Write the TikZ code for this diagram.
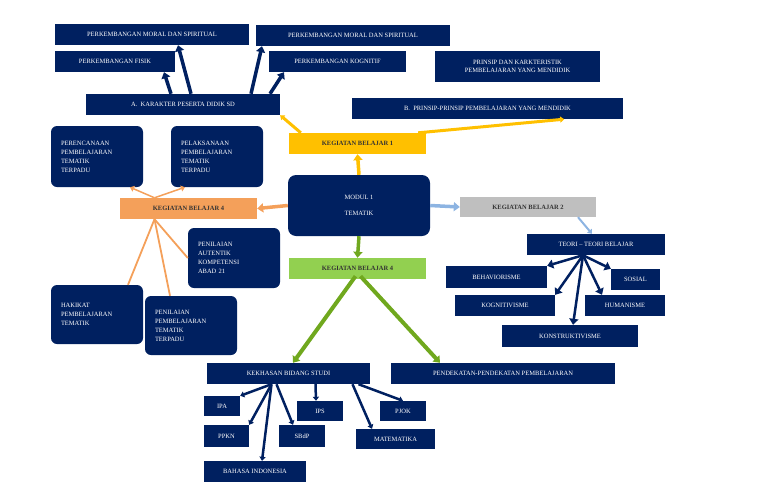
\documentclass[tikz,border=0pt]{standalone}
\usepackage{fontspec}
\setmainfont{Liberation Serif}
\usetikzlibrary{arrows.meta}
\definecolor{cnavy}{RGB}{0,32,96}
\definecolor{cyellow}{RGB}{255,192,0}
\definecolor{corange}{RGB}{244,160,90}
\definecolor{cgreen}{RGB}{146,208,80}
\definecolor{cgreenarr}{RGB}{112,168,30}
\definecolor{cgrey}{RGB}{191,191,191}
\definecolor{cblue}{RGB}{141,180,226}

\begin{document}
\begin{tikzpicture}[x=1pt,y=-1pt,
  box/.style={fill=cnavy,text=white,inner sep=0pt,font=\fontsize{6.5}{8}\selectfont,align=center},
  rbox/.style={box,rounded corners=6,align=left,text width=72pt,font=\fontsize{6.5}{9}\selectfont},
  kb/.style={inner sep=0pt,font=\bfseries\fontsize{6.5}{8}\selectfont,text=black!80},
  fat/.style={line width=3.5pt,-{Triangle[length=6pt,width=9pt]}},
  thin/.style={line width=2pt,-{Triangle[length=4pt,width=6pt]}}]

\useasboundingbox (0,0) rectangle (768,501);

% top: karakter peserta didik
\node[box,minimum width=194,minimum height=21] (moralA) at (152,34.5) {PERKEMBANGAN MORAL DAN SPIRITUAL};
\node[box,minimum width=194,minimum height=21] (moralB) at (353,35.5) {PERKEMBANGAN MORAL DAN SPIRITUAL};
\node[box,minimum width=120,minimum height=21] (fisik) at (115,61.5) {PERKEMBANGAN FISIK};
\node[box,minimum width=137,minimum height=21] (kogn) at (337.5,61.5) {PERKEMBANGAN KOGNITIF};
\node[box,minimum width=194,minimum height=21] (karakter) at (183,104.5) {A.\ \ KARAKTER PESERTA DIDIK SD};
\node[box,minimum width=165,minimum height=31] (prinsip) at (517.5,66.5) {PRINSIP DAN KARKTERISTIK\\PEMBELAJARAN YANG MENDIDIK};
\node[box,minimum width=271,minimum height=21] (prinsipB) at (487.5,108.5) {B.\ \ PRINSIP-PRINSIP PEMBELAJARAN YANG MENDIDIK};

% centre
\node[kb,fill=cyellow,minimum width=137,minimum height=21] (kb1) at (357.5,143.5) {KEGIATAN BELAJAR 1};
\node[box,rounded corners=8,minimum width=142,minimum height=61] (modul) at (359,205.5) {MODUL 1\\[8pt]TEMATIK};
\node[kb,fill=corange,minimum width=137,minimum height=21] (kb4) at (188.5,208.5) {KEGIATAN BELAJAR 4};
\node[kb,fill=cgrey,minimum width=136,minimum height=20] (kb2) at (528,207) {KEGIATAN BELAJAR 2};
\node[kb,fill=cgreen,minimum width=137,minimum height=21] (kb4b) at (357.5,268.5) {KEGIATAN BELAJAR 4};

% left
\node[rbox,minimum width=92,minimum height=61] (rencana) at (97,156.5) {PERENCANAAN\\PEMBELAJARAN\\TEMATIK\\TERPADU};
\node[rbox,minimum width=92,minimum height=61] (laksana) at (217,156.5) {PELAKSANAAN\\PEMBELAJARAN\\TEMATIK\\TERPADU};
\node[rbox,minimum width=92,minimum height=60] (autentik) at (234,258) {PENILAIAN\\AUTENTIK\\KOMPETENSI\\ABAD 21};
\node[rbox,minimum width=92,minimum height=59] (hakikat) at (97,314.5) {HAKIKAT\\PEMBELAJARAN\\TEMATIK};
\node[rbox,minimum width=92,minimum height=59] (nilai) at (191,325.5) {PENILAIAN\\PEMBELAJARAN\\TEMATIK\\TERPADU};

% right
\node[box,minimum width=138,minimum height=21] (teori) at (596,244.5) {TEORI -- TEORI BELAJAR};
\node[box,minimum width=101,minimum height=22] (behav) at (496.5,277) {BEHAVIORISME};
\node[box,minimum width=49,minimum height=21] (sosial) at (635.5,279.5) {SOSIAL};
\node[box,minimum width=100,minimum height=21] (kognv) at (505,305.5) {KOGNITIVISME};
\node[box,minimum width=80,minimum height=21] (human) at (625,305.5) {HUMANISME};
\node[box,minimum width=136,minimum height=22] (konstr) at (570,336) {KONSTRUKTIVISME};

% bottom
\node[box,minimum width=163,minimum height=21] (khas) at (288.5,373.5) {KEKHASAN BIDANG STUDI};
\node[box,minimum width=224,minimum height=21] (dekat) at (503,373.5) {PENDEKATAN-PENDEKATAN PEMBELAJARAN};
\node[box,minimum width=36,minimum height=20] (ipa) at (222,406) {IPA};
\node[box,minimum width=45,minimum height=22] (ppkn) at (226.5,436) {PPKN};
\node[box,minimum width=46,minimum height=22] (sbdp) at (302,436) {SBdP};
\node[box,minimum width=46,minimum height=20] (ips) at (320,411) {IPS};
\node[box,minimum width=46,minimum height=20] (pjok) at (403,411) {PJOK};
\node[box,minimum width=79,minimum height=20] (mtk) at (395.5,439) {MATEMATIKA};
\node[box,minimum width=102,minimum height=21] (bindo) at (255,471.5) {BAHASA INDONESIA};

% arrows karakter
\draw[fat,cnavy] ([xshift=8]karakter.north) -- ([xshift=26]moralA.south);
\draw[fat,cnavy] ([xshift=-12]karakter.north) -- ([xshift=49]fisik.south);
\draw[fat,cnavy] ([xshift=68]karakter.north) -- ([xshift=-91]moralB.south);
\draw[fat,cnavy] ([xshift=87]karakter.north) -- ([xshift=-53.5]kogn.south);

% arrows from kegiatan belajar 1
\draw[thin,cyellow,line width=3pt] ([xshift=12]kb1.north west) -- (karakter.south east);
\draw[thin,cyellow,line width=3pt] ([xshift=-8]kb1.north east) -- ([xshift=-59]prinsipB.south east);

% arrows from modul
\draw[fat,cyellow] (modul.north) -- (kb1.south);
\draw[fat,corange] (modul.west) -- (kb4.east);
\draw[fat,cblue] (modul.east) -- (kb2.west);
\draw[fat,cgreenarr] (modul.south) -- (kb4b.north);
\draw[thin,cblue] ([xshift=50]kb2.south) -- ([xshift=-4]teori.north);

% orange spokes
\draw[thin,corange,line width=1.5pt] ([xshift=-34]kb4.north) -- ([xshift=33]rencana.south);
\draw[thin,corange,line width=1.5pt] ([xshift=-34]kb4.north) -- ([xshift=-32]laksana.south);
\draw[corange,line width=1.8pt] ([xshift=-34]kb4.south) -- ([xshift=31]hakikat.north);
\draw[corange,line width=1.8pt] ([xshift=-34]kb4.south) -- ([xshift=-21]nilai.north);
\draw[corange,line width=1.8pt] ([xshift=-34]kb4.south) -- (autentik.west);

% teori spokes
\draw[fat,cnavy,line width=2.5pt] ([xshift=-13]teori.south) -- (behav.north east);
\draw[fat,cnavy,line width=2.5pt] ([xshift=-13]teori.south) -- (sosial.north west);
\draw[fat,cnavy,line width=2.5pt] ([xshift=-13]teori.south) -- (kognv.north east);
\draw[fat,cnavy,line width=2.5pt] ([xshift=-13]teori.south) -- ([xshift=-23]human.north);
\draw[fat,cnavy,line width=2.5pt] ([xshift=-13]teori.south) -- ([xshift=3]konstr.north);

% green
\draw[fat,cgreenarr,line width=4pt] ([xshift=-2,yshift=3]kb4b.south) -- ([xshift=4.5]khas.north);
\draw[fat,cgreenarr,line width=4pt] ([xshift=3,yshift=3]kb4b.south) -- ([xshift=-63]dekat.north);

% mapel spokes
\draw[thin,cnavy,line width=2.5pt] ([xshift=-17]khas.south) -- (ipa.north east);
\draw[thin,cnavy,line width=2.5pt] ([xshift=-17]khas.south) -- (ppkn.north east);
\draw[thin,cnavy,line width=2.5pt] ([xshift=-17]khas.south) -- ([xshift=7]bindo.north);
\draw[thin,cnavy,line width=2.5pt] ([xshift=-12]khas.south) -- ([xshift=-9]sbdp.north);
\draw[thin,cnavy,line width=2.5pt] ([xshift=27]khas.south) -- ([xshift=-4]ips.north);
\draw[thin,cnavy,line width=2.5pt] ([xshift=64]khas.south) -- ([xshift=-23.5]mtk.north);
\draw[thin,cnavy,line width=2.5pt] ([xshift=70]khas.south) -- (pjok.north);
\end{tikzpicture}
\end{document}
